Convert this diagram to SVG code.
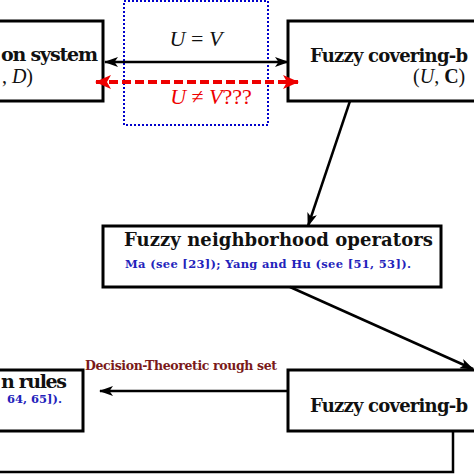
<svg xmlns="http://www.w3.org/2000/svg" width="474" height="474" viewBox="0 0 474 474">
<style>
.box{fill:#fff;stroke:#000;stroke-width:3}
.t{font-family:"DejaVu Serif","Liberation Serif",serif;font-weight:bold;fill:#111}
.m{font-family:"Liberation Serif","DejaVu Serif",serif;fill:#111}
.blue{font-family:"DejaVu Serif","Liberation Serif",serif;font-weight:bold;fill:#2222bb;font-size:11.5px}
.ln{stroke:#000;stroke-width:2.5;fill:none}
</style>
<defs>
<marker id="ah" viewBox="0 0 14 10" refX="13" refY="5" markerWidth="14" markerHeight="10" markerUnits="userSpaceOnUse" orient="auto-start-reverse">
<path d="M0,0 L14,5 L0,10 L3.5,5 z" fill="#000"/>
</marker>
<marker id="rh" viewBox="0 0 16 14" refX="15" refY="7" markerWidth="16" markerHeight="14" markerUnits="userSpaceOnUse" orient="auto-start-reverse">
<path d="M0,0 L16,7 L0,14 L4,7 z" fill="#e00"/>
</marker>
</defs>
<g id="uv-box">
<rect x="124" y="1" width="144" height="124" fill="none" stroke="#0000cc" stroke-width="2" stroke-dasharray="2,2"/>
<text class="m" x="196" y="46" font-size="22" text-anchor="middle"><tspan font-style="italic">U</tspan> = <tspan font-style="italic">V</tspan></text>
<text class="m" x="211" y="104" font-size="22" text-anchor="middle" style="fill:#e00"><tspan font-style="italic">U</tspan> ≠ <tspan font-style="italic">V</tspan>???</text>
</g>
<g id="info-system">
<rect class="box" x="-5" y="21" width="108" height="80"/>
<text class="t" x="1" y="61" font-size="19" textLength="97">on system</text>
<text class="m" x="33" y="83" font-size="20" text-anchor="end">, <tspan font-style="italic">D</tspan>)</text>
</g>
<g id="fcs-top">
<rect class="box" x="288" y="21" width="200" height="80"/>
<text class="t" x="310" y="62" font-size="18" textLength="158">Fuzzy covering-b</text>
<text class="m" x="413" y="83" font-size="20">(<tspan font-style="italic">U</tspan>, <tspan font-weight="bold">C</tspan>)</text>
</g>
<g id="fno">
<rect class="box" x="103" y="226" width="338" height="61"/>
<text class="t" x="124" y="246" font-size="18" textLength="309">Fuzzy neighborhood operators</text>
<text class="blue" x="125" y="268" textLength="286">Ma (see [23]);  Yang and Hu (see [51, 53]).</text>
</g>
<g id="fcs-bottom">
<rect class="box" x="288" y="370" width="200" height="61"/>
<text class="t" x="310" y="412" font-size="18" textLength="158">Fuzzy covering-b</text>
</g>
<g id="rules">
<rect class="box" x="-5" y="370" width="88" height="61"/>
<text class="t" x="1" y="388" font-size="19" textLength="66">n rules</text>
<text class="blue" x="62" y="403" text-anchor="end">64, 65]).</text>
</g>
<text class="t" x="85" y="370" font-size="12.5" textLength="192" style="fill:#7a1a1a">Decision-Theoretic rough set</text>
<g id="connectors">
<line class="ln" x1="105" y1="62" x2="288" y2="62" marker-start="url(#ah)" marker-end="url(#ah)"/>
<line x1="96" y1="82" x2="298" y2="82" stroke="#e00" stroke-width="4" stroke-dasharray="9,4" marker-start="url(#rh)" marker-end="url(#rh)"/>
<line class="ln" x1="350" y1="101" x2="308" y2="226" marker-end="url(#ah)"/>
<line class="ln" x1="290" y1="287" x2="473" y2="369" marker-end="url(#ah)"/>
<line class="ln" x1="288" y1="391" x2="100" y2="391" marker-end="url(#ah)"/>
<polyline class="ln" stroke-width="3" points="453,431 453,472 -5,472"/>
</g>
</svg>
